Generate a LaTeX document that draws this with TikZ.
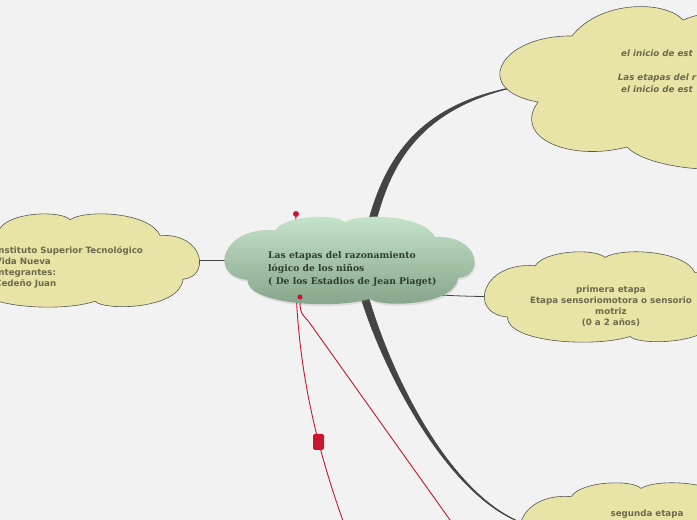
\documentclass[tikz,border=0pt]{standalone}
\usepackage{fontspec}
\setsansfont{DejaVu Sans}
\newfontfamily\rootfont{DejaVu Serif}
\usetikzlibrary{shadows,backgrounds,calc}

\definecolor{canvas}{RGB}{242,242,242}
\definecolor{ideafill}{RGB}{232,228,166}
\definecolor{ideaink}{RGB}{108,106,76}
\definecolor{rootlight}{RGB}{200,229,205}
\definecolor{rootdark}{RGB}{132,162,136}
\definecolor{rootink}{RGB}{46,62,46}
\definecolor{branchgray}{RGB}{68,68,68}
\definecolor{linkred}{RGB}{200,22,48}

\tikzset{
  % cloud outline in a unit box, scaled to #1 x #2, drawn with style #3
  pics/puffcloud/.style n args={3}{code={
    \path[#3, xscale=#1, yscale=#2]
      (0.21,0.17) .. controls (0.25,0.0) and (0.45,-0.02) .. (0.486,0.08)
      .. controls (0.55,-0.03) and (0.80,0.0) .. (0.842,0.244)
      .. controls (1.02,0.22) and (1.04,0.68) .. (0.933,0.70)
      .. controls (0.92,1.02) and (0.62,1.03) .. (0.585,0.93)
      .. controls (0.45,1.05) and (0.10,1.0) .. (0.1,0.72)
      .. controls (-0.06,0.68) and (0.0,0.12) .. (0.21,0.17) -- cycle;
    \coordinate (-mid) at (#1/2,#2/2);
  }},
  idea/.style={draw=branchgray!90, line width=0.6pt, fill=ideafill},
  root/.style={top color=rootlight, bottom color=rootdark,
    drop shadow={opacity=0.18, shadow xshift=1pt, shadow yshift=-2pt}},
  ideatxt/.style={font=\sffamily\bfseries\fontsize{8.7}{11}\selectfont,
    text=ideaink, inner sep=0pt},
  roottxt/.style={font=\rootfont\bfseries\fontsize{9.2}{13}\selectfont,
    text=rootink, inner sep=0pt, align=left},
  twig/.style={draw=branchgray, line width=0.8pt},
  bough/.style={fill=branchgray, draw=branchgray, line width=0.5pt},
  redlink/.style={draw=linkred, line width=0.9pt},
  reddot/.style={circle, fill=linkred, inner sep=0pt, minimum size=#1},
  linkmark/.style={rectangle, rounded corners=1.5pt, fill=linkred, inner sep=0pt,
    minimum width=11pt, minimum height=16pt}
}

\begin{document}
\begin{tikzpicture}[x=1pt, y=-1pt]
  \useasboundingbox (0,0) rectangle (697,520);

  % clouds
  \pic (piaget) at (222,215) {puffcloud={253}{90}{root}};
  \pic (instituto) at (-53,212) {puffcloud={253}{96}{idea}};
  \pic (primera) at (482,250) {puffcloud={253}{93}{idea}};
  \pic (segunda) at (518,481) {puffcloud={253}{92}{idea}};
  % the tall cloud, top right
  \coordinate (inicio) at (640,87);
  \draw[idea] (538,102) .. controls (470,90) and (500,35) .. (572,36)
    .. controls (600,0) and (665,0) .. (683,20)
    .. controls (720,5) and (760,10) .. (780,60) -- (780,150)
    .. controls (760,180) and (650,172) .. (627,147)
    .. controls (570,162) and (512,138) .. (538,102) -- cycle;

  % texts
  \node[roottxt, anchor=north west] (piagettxt) at (268,251)
    {Las etapas del razonamiento\\l\'ogico de los ni\~nos\\( De los Estadios de Jean Piaget)};
  \node[ideatxt, align=left, anchor=north west] (institutotxt) at (-5,246)
    {Instituto Superior Tecnol\'ogico\\Vida Nueva\\Integrantes:\\Cede\~no Juan};
  \node[ideatxt, font=\sffamily\bfseries\itshape\fontsize{8.7}{12}\selectfont,
    align=center, anchor=north] (iniciotxt) at (657,50)
    {el inicio de est\\[0pt]\\Las etapas del r\\el inicio de est};
  \node[ideatxt, align=center, anchor=north] (primeratxt) at (611,286)
    {primera etapa\\Etapa sensoriomotora o sensorio\\motriz\\(0 a 2 a\~nos)};
  \node[ideatxt, align=center, anchor=north] (segundatxt) at (647,510) {segunda etapa};

  % link dots
  \node[reddot=6pt] (topdot) at (296,214) {};
  \node[reddot=5pt] (lowdot) at (300,297) {};

  % branches and links, behind the clouds
  \begin{scope}[on background layer]
    \fill[canvas] (0,0) rectangle (697,520);
    \draw[twig] (instituto-mid) -- (piaget-mid);
    \draw[twig] ($(piaget-mid)+(60,33)$) .. controls (470,297) .. (primera-mid);
    % upper bough, thick at the root
    \filldraw[bough] ($(piaget-mid)+(14,-15)$) .. controls (378,175) and (405,105) .. ($(inicio)+(-120,-1)$)
      .. controls (407,110) and (385,178) .. ($(piaget-mid)+(22,-15)$) -- cycle;
    % lower bough
    \filldraw[bough] ($(piaget-mid)+(10,30)$) .. controls (385,380) and (455,505) .. ($(segunda-mid)+(-116,-2)$)
      .. controls (453,501) and (391,378) .. ($(piaget-mid)+(18,30)$) -- cycle;
    % red links
    \draw[redlink] (topdot) .. controls (292,330) and (305,420) .. (350,540)
      node[linkmark, pos=0.71] (mark) {};
    \draw[redlink] (lowdot.center) .. controls (300,312) .. (309,322) -- (455,527);
  \end{scope}
\end{tikzpicture}
\end{document}
